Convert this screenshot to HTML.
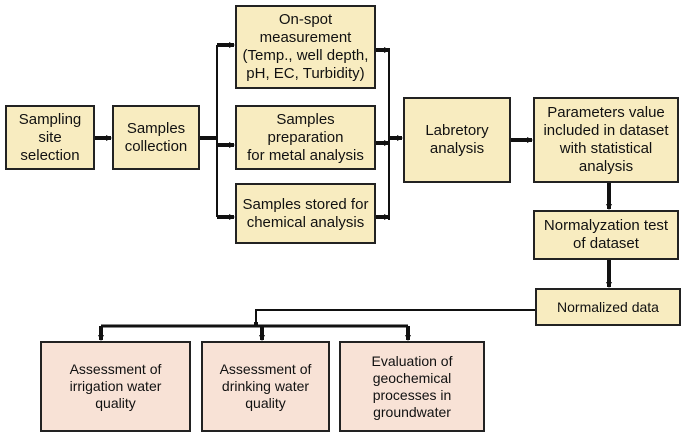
<!DOCTYPE html>
<html><head><style>
body{margin:0;background:#fff;}
.b{position:absolute;box-sizing:border-box;border:2px solid #222;background:#f8ecc0;display:flex;align-items:center;justify-content:center;text-align:center;font-family:"Liberation Sans",sans-serif;font-size:15px;line-height:18px;color:#111;}
.p{background:#f8e2d6;font-size:14px;line-height:17px;}
</style></head><body>
<div style="position:relative;width:685px;height:434px;overflow:hidden">
<svg width="685" height="434" style="position:absolute;left:0;top:0">
<defs><marker id="a" markerWidth="6" markerHeight="6" refX="5" refY="3" orient="auto" markerUnits="userSpaceOnUse"><path d="M0,0L6,3L0,6z" fill="#111"/></marker></defs>
<g stroke="#111" fill="none">
<line x1="95" y1="138" x2="111" y2="138" stroke-width="4" marker-end="url(#a)"/>
<line x1="200" y1="138" x2="217" y2="138" stroke-width="4"/>
<line x1="217" y1="45" x2="217" y2="217" stroke-width="2"/>
<line x1="217" y1="45" x2="234" y2="45" stroke-width="4" marker-end="url(#a)"/>
<line x1="217" y1="145" x2="234" y2="145" stroke-width="4" marker-end="url(#a)"/>
<line x1="217" y1="217" x2="234" y2="217" stroke-width="4" marker-end="url(#a)"/>
<line x1="376" y1="50" x2="389" y2="50" stroke-width="4" marker-end="url(#a)"/>
<line x1="376" y1="143" x2="389" y2="143" stroke-width="4" marker-end="url(#a)"/>
<line x1="376" y1="217" x2="389" y2="217" stroke-width="4" marker-end="url(#a)"/>
<line x1="389" y1="48" x2="389" y2="220" stroke-width="2"/>
<line x1="389" y1="138" x2="402" y2="138" stroke-width="4" marker-end="url(#a)"/>
<line x1="511" y1="140" x2="532" y2="140" stroke-width="4" marker-end="url(#a)"/>
<line x1="609" y1="183" x2="609" y2="209" stroke-width="4" marker-end="url(#a)"/>
<line x1="609" y1="260" x2="609" y2="287" stroke-width="4" marker-end="url(#a)"/>
<polyline points="535,310 256,310 256,325" stroke-width="2"/>
<line x1="256" y1="322" x2="256" y2="326" stroke-width="4"/>
<line x1="101" y1="326" x2="408" y2="326" stroke-width="3"/>
<line x1="101" y1="326" x2="101" y2="340" stroke-width="4" marker-end="url(#a)"/>
<line x1="262" y1="326" x2="262" y2="340" stroke-width="4" marker-end="url(#a)"/>
<line x1="408" y1="326" x2="408" y2="340" stroke-width="4" marker-end="url(#a)"/>
</g></svg>
<div class="b" style="left:5px;top:105px;width:90px;height:65px">Sampling<br>site<br>selection</div>
<div class="b" style="left:112px;top:105px;width:88px;height:65px">Samples<br>collection</div>
<div class="b" style="left:235px;top:5px;width:141px;height:84px">On-spot<br>measurement<br>(Temp., well depth,<br>pH, EC, Turbidity)</div>
<div class="b" style="left:235px;top:105px;width:141px;height:65px">Samples<br>preparation<br>for metal analysis</div>
<div class="b" style="left:235px;top:183px;width:141px;height:61px">Samples stored for<br>chemical analysis</div>
<div class="b" style="left:403px;top:97px;width:108px;height:86px">Labretory<br>analysis</div>
<div class="b" style="left:533px;top:97px;width:146px;height:86px">Parameters value<br>included in dataset<br>with statistical<br>analysis</div>
<div class="b" style="left:533px;top:210px;width:146px;height:50px">Normalyzation test<br>of dataset</div>
<div class="b" style="left:535px;top:288px;width:146px;height:38px;font-size:14px">Normalized data</div>
<div class="b p" style="left:40px;top:341px;width:151px;height:91px">Assessment of<br>irrigation water<br>quality</div>
<div class="b p" style="left:201px;top:341px;width:129px;height:91px">Assessment of<br>drinking water<br>quality</div>
<div class="b p" style="left:339px;top:341px;width:146px;height:91px">Evaluation of<br>geochemical<br>processes in<br>groundwater</div>
</div>
</body></html>
